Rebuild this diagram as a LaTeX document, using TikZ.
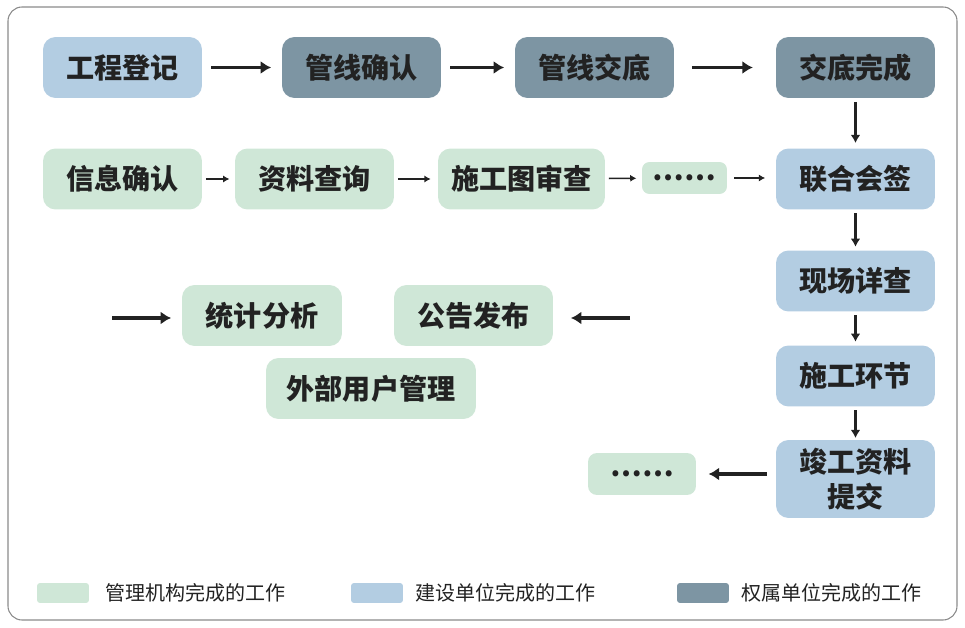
\documentclass[tikz,border=0pt]{standalone}
\usepackage{fontspec}
\usepackage{tikz}
\usetikzlibrary{arrows.meta,positioning,shapes}
\newfontfamily\cjk{Noto Sans CJK SC}
\definecolor{mgmtgreen}{HTML}{CFE7D7}
\definecolor{buildblue}{HTML}{B3CDE2}
\definecolor{ownergray}{HTML}{7D95A3}
\definecolor{txtdark}{HTML}{222222}
\definecolor{framegray}{HTML}{8A8A8A}
\tikzset{%
	task/.style   = {rectangle, rounded corners=0.25cm, minimum width=3.18cm, minimum height=1.22cm, text centered, text=txtdark, font=\cjk\bfseries\fontsize{16}{20}\selectfont},
	mgmt/.style   = {task, fill=mgmtgreen},
	build/.style  = {task, fill=buildblue},
	owner/.style  = {task, fill=ownergray},
	swatch/.style = {rectangle, rounded corners=0.06cm, minimum width=1.04cm, minimum height=0.4cm},
	legend/.style = {right, inner sep=0pt, text=txtdark, font=\cjk\fontsize{11.4}{13}\selectfont},
	arrow/.style  = {line width=2.2pt, -{Latex[length=6pt,width=7.5pt]}, txtdark},
	varrow/.style = {line width=1.6pt, -{Latex[length=4.5pt,width=5.5pt]}, txtdark},
	thin/.style   = {line width=0.9pt, -{Latex[length=3.5pt,width=4pt]}, txtdark},
}
\begin{document}
\begin{tikzpicture}[x=0.02cm,y=-0.02cm]
	\useasboundingbox (0,0) rectangle (965,628);
	\draw[framegray, line width=0.6pt, rounded corners=0.28cm] (8,7) rectangle (957,620);  % frame
	% first row
	\node (reg)    [build] at (122.5,67.5) {工程登记};
	\node (pconf)  [owner] at (361.5,67.5) {管线确认};
	\node (pdisc)  [owner] at (594.5,67.5) {管线交底};
	\node (ddone)  [owner] at (855.5,67.5) {交底完成};
	\draw[arrow, shorten <=5pt, shorten >=6pt] (reg) -- (pconf);
	\draw[arrow, shorten <=5pt, shorten >=6pt] (pconf) -- (pdisc);
	\draw[arrow, shorten <=10pt, shorten >=13pt] (pdisc) -- (ddone);
	% second row
	\node (info)   [mgmt] at (122.5,179) {信息确认};
	\node (query)  [mgmt] at (314.5,179) {资料查询};
	\node (review) [mgmt, minimum width=3.34cm] at (521.5,179) {施工图审查};
	\node (dotsa)  [mgmt, minimum width=1.7cm, minimum height=0.64cm, rounded corners=0.15cm] at (684.5,178) {……};
	\node (sign)   [build] at (855.5,179) {联合会签};
	\draw[thin, shorten <=2pt, shorten >=3pt] (info) -- (query);
	\draw[thin, shorten <=2pt, shorten >=4pt] (query) -- (review);
	\draw[thin, shorten <=2pt, shorten >=3pt] (review) -- (dotsa);
	\draw[thin, shorten <=4pt, shorten >=6pt] (dotsa) -- (dotsa -| sign.west);
	% right column
	\node (survey) [build] at (855.5,281) {现场详查};
	\node (constr) [build] at (855.5,376) {施工环节};
	\node (finish) [build, minimum height=1.56cm, align=center] at (855.5,479) {竣工资料\\提交};
	\node (dotsb)  [mgmt, minimum width=2.16cm, minimum height=0.84cm, rounded corners=0.18cm] at (642,474) {……};
	\draw[varrow, shorten <=2pt, shorten >=3pt] (ddone) -- (sign);
	\draw[varrow, shorten <=2pt, shorten >=2pt] (sign) -- (survey);
	\draw[varrow, shorten <=2pt, shorten >=2pt] (survey) -- (constr);
	\draw[varrow, shorten <=2pt, shorten >=1pt] (constr) -- (finish);
	\draw[arrow, shorten <=5pt, shorten >=7pt] (finish.west |- dotsb) -- (dotsb);
	% middle block
	\node (stat)   [mgmt, minimum width=3.2cm] at (262,315.5) {统计分析};
	\node (notice) [mgmt] at (473.5,315.5) {公告发布};
	\node (users)  [mgmt, minimum width=4.2cm] at (371,388.5) {外部用户管理};
	\coordinate (statin) at (112,318);
	\coordinate (noticein) at (630,318);
	\draw[arrow, shorten >=6pt] (statin) -- (statin -| stat.west);
	\draw[arrow, shorten >=10pt] (noticein) -- (noticein -| notice.east);
	% legend
	\node (swa) [swatch, fill=mgmtgreen] at (63,593) {};
	\node (swb) [swatch, fill=buildblue] at (377,593) {};
	\node (swc) [swatch, fill=ownergray] at (703,593) {};
	\node (lga) [legend] at (105,593) {管理机构完成的工作};
	\node (lgb) [legend] at (415,593) {建设单位完成的工作};
	\node (lgc) [legend] at (741,593) {权属单位完成的工作};
\end{tikzpicture}
\end{document}
